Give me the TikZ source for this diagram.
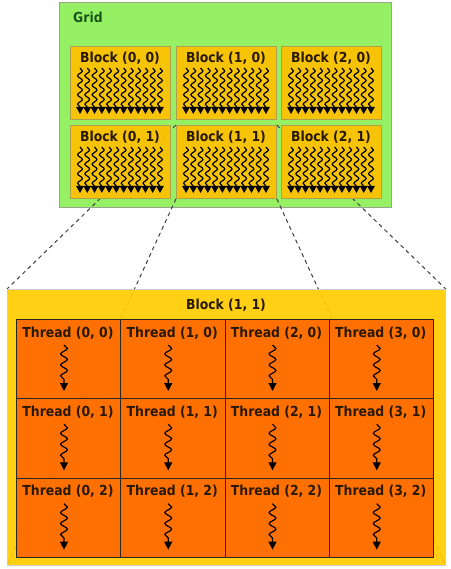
\documentclass[tikz,border=0pt]{standalone}
\usepackage{fontspec}
\setmainfont{DejaVu Sans Condensed}
\usepackage{xcolor}
\usetikzlibrary{arrows.meta}
\usetikzlibrary{decorations.pathmorphing}
\pgfdeclarelayer{bg}
\pgfdeclarelayer{zoom}
\pgfsetlayers{bg,zoom,main}
\definecolor{gridfill}{RGB}{150,240,100}
\definecolor{gridline}{RGB}{150,165,140}
\definecolor{gridtxt}{RGB}{25,85,25}
\definecolor{blockfill}{RGB}{255,192,0}
\definecolor{blockline}{RGB}{175,160,80}
\definecolor{bigfill}{RGB}{255,204,0}
\definecolor{bigline}{RGB}{205,205,205}
\definecolor{cellfill}{RGB}{255,102,0}
\definecolor{txt}{RGB}{40,25,0}

\begin{document}
\begin{tikzpicture}[x=1pt,y=-1pt,
  lbl/.style={font=\bfseries\fontsize{13.8}{16}\selectfont,text=txt,inner sep=0pt},
  gridbox/.style={draw=gridline,fill=gridfill,line width=0.8pt,inner sep=0pt,anchor=north west},
  blockbox/.style={draw=blockline,fill=blockfill,fill opacity=0.93,text opacity=1,line width=0.8pt,
    minimum width=100pt,minimum height=73pt,inner sep=0pt,anchor=north west},
  bigbox/.style={draw=bigline,fill=bigfill,fill opacity=0.92,text opacity=1,line width=0.8pt,inner sep=0pt,anchor=north west},
  cellbox/.style={draw=black!85,fill=cellfill,fill opacity=0.9,text opacity=1,line width=1.1pt,
    minimum width=104.25pt,minimum height=79.33pt,inner sep=0pt,anchor=north west},
  smallwave/.style={-{Triangle[width=7.5pt,length=7pt]},line width=1.2pt,black,
    decorate,decoration={snake,amplitude=2.4pt,segment length=9.5pt,post length=6pt}},
  thrwave/.style={-{Triangle[width=8pt,length=8pt]},line width=1.2pt,black,
    decorate,decoration={snake,amplitude=3.4pt,segment length=11pt,post length=7pt}},
  zoomline/.style={draw=black!75,line width=1pt,dash pattern=on 4pt off 3.5pt}]
\useasboundingbox (0,0) rectangle (450,569);

% the grid of blocks
\begin{pgfonlayer}{bg}
\node[gridbox,minimum width=332pt,minimum height=205pt] (grid) at (59,2) {};
\end{pgfonlayer}
\node[lbl,text=gridtxt,anchor=west] (gridt) at (73,17) {Grid};
\foreach \i/\x in {0/70,1/176,2/281}
  \foreach \j/\y in {0/46,1/125} {
    \node[blockbox] (b\i\j) at (\x,\y) {};
    \node[lbl] (b\i\j t) at ({\x+50},{\y+12}) {Block (\i, \j)};
    \foreach \k in {0,...,11}
      \draw[smallwave] ({\x+10+\k*7.27},{\y+22}) -- ++(0,46);
  }

% block (1,1) blown up
\node[bigbox,minimum width=438pt,minimum height=276pt] (big) at (7,289) {};
\node[lbl] (bigt) at (226,305) {Block (1, 1)};
\foreach \i in {0,...,3}
  \foreach \j in {0,1,2} {
    \node[cellbox] (t\i\j) at ({16+\i*104.25},{319+\j*79.33}) {};
    \node[lbl] (t\i\j l) at ({16+\i*104.25+52},{319+\j*79.33+14}) {Thread (\i, \j)};
    \draw[thrwave] ({16+\i*104.25+48},{319+\j*79.33+26}) -- ++(0,46);
  }

\begin{pgfonlayer}{zoom}
\draw[zoomline] (b11.north west) -- (big.north west);
\draw[zoomline] (b11.south west) -- (big.south west);
\draw[zoomline] (b11.north east) -- (big.north east);
\draw[zoomline] (b11.south east) -- (big.south east);
\end{pgfonlayer}
\end{tikzpicture}
\end{document}
